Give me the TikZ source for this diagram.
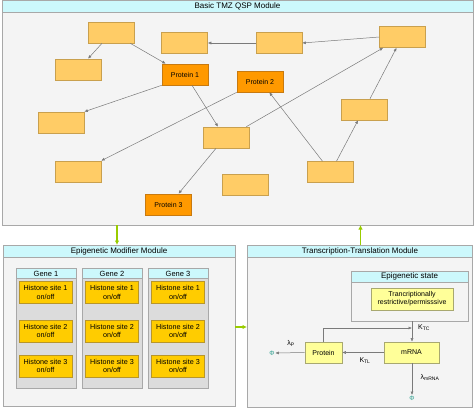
\documentclass[tikz,border=0pt]{standalone}
\usepackage{fontspec}
\setmainfont{Liberation Sans}
\usetikzlibrary{arrows.meta,calc}
\definecolor{modfill}{HTML}{F4F4F4}
\definecolor{modline}{HTML}{A8A8A8}
\definecolor{band}{HTML}{CCF8FC}
\definecolor{boxfill}{HTML}{FFCC66}
\definecolor{boxline}{HTML}{C9A04E}
\definecolor{protfill}{HTML}{FF9900}
\definecolor{protline}{HTML}{C87A10}
\definecolor{histfill}{HTML}{FFCC00}
\definecolor{histline}{HTML}{B8962A}
\definecolor{genefill}{HTML}{DCDCDC}
\definecolor{ylwfill}{HTML}{FFFF99}
\definecolor{ylwline}{HTML}{A8A870}
\definecolor{grn}{HTML}{99CC00}
\definecolor{phic}{HTML}{2E9E8E}
\definecolor{conn}{HTML}{7A7A7A}
\begin{document}
\begin{tikzpicture}[x=1pt,y=-1pt,
  modbox/.style={draw=modline,fill=modfill,line width=0.8pt},
  bandbox/.style={draw=modline,fill=band,line width=0.6pt},
  obox/.style={draw=boxline,fill=boxfill,line width=0.6pt,minimum width=46pt,minimum height=21pt,inner sep=0pt},
  pbox/.style={draw=protline,fill=protfill,line width=0.6pt,minimum width=46pt,minimum height=21pt,inner sep=0pt,font=\fontsize{7}{8}\selectfont},
  hbox/.style={draw=histline,fill=histfill,line width=0.6pt,minimum width=53pt,minimum height=22pt,inner sep=0pt,align=center,font=\fontsize{7.2}{8.4}\selectfont},
  gbox/.style={draw=modline,fill=genefill,line width=0.6pt},
  ybox/.style={draw=ylwline,fill=ylwfill,line width=0.6pt,inner sep=0pt,align=center,font=\fontsize{7}{8.2}\selectfont},
  ttl/.style={font=\fontsize{8}{9}\selectfont,inner sep=0pt},
  gttl/.style={font=\fontsize{7.5}{9}\selectfont,inner sep=0pt},
  lbl/.style={font=\fontsize{7}{8}\selectfont,inner sep=0pt},
  conn/.style={draw=conn,line width=0.5pt,-{Latex[length=3.5pt,width=3pt]}},
  garrow/.style={draw=grn,line width=1.4pt,-{Latex[length=4.5pt,width=4.5pt]}},
  phi/.style={text=phic,font=\fontsize{6.5}{7}\selectfont,inner sep=0.5pt}]
\useasboundingbox (0,0) rectangle (474,408);
% ---------- Top module ----------
\draw[modbox] (2,0) rectangle (473,225);
\draw[bandbox] (2,0) rectangle (473,12.5);
\node[ttl] (toptitle) at (237.5,6.5) {Basic TMZ QSP Module};
\node[obox] (B1) at (111,32.5) {};
\node[obox] (B2) at (78,69.5) {};
\node[obox] (B3) at (184.5,43) {};
\node[pbox] (P1) at (185,74.5) {Protein 1};
\node[obox] (B4) at (279,43) {};
\node[obox] (B5) at (402.5,37) {};
\node[pbox] (P2) at (260,81.5) {Protein 2};
\node[obox] (B6) at (61,122.5) {};
\node[obox] (B7) at (364,109.5) {};
\node[obox] (B8) at (226,137.5) {};
\node[obox] (B9) at (78,171.5) {};
\node[obox] (B10) at (245,184.5) {};
\node[obox] (B11) at (330.5,172) {};
\node[pbox] (P3) at (168.5,204.5) {Protein 3};
\draw[conn] ([xshift=-9pt]B1.south) -- ([xshift=10pt]B2.north);
\draw[conn] ([xshift=-4pt]B1.south east) -- ([xshift=4pt]P1.north west);
\draw[conn] (B4.west) -- (B3.east);
\draw[conn] (B5.west) -- (B4.east);
\draw[conn] (P1.south west) -- (B6.north east);
\draw[conn] ([xshift=7pt]P1.south) -- ([xshift=-8pt]B8.north);
\draw[conn] (P2.south west) -- (B9.north east);
\draw[conn] ([xshift=-3pt]B8.north east) -- ([xshift=4pt]B5.south west);
\draw[conn] ([xshift=-10pt]B8.south) -- ([xshift=10pt]P3.north);
\draw[conn] ([xshift=-8pt]B11.north) -- ([xshift=-14pt]P2.south east);
\draw[conn] ([xshift=6pt]B11.north) -- ([xshift=-6pt]B7.south);
\draw[conn] ([xshift=6pt]B7.north) -- ([xshift=-6pt]B5.south);
% ---------- Epigenetic modifier module ----------
\draw[modbox] (3,245) rectangle (235,406);
\draw[bandbox] (3,245) rectangle (235,257);
\node[ttl] (epititle) at (119,251) {Epigenetic Modifier Module};
\foreach \g/\xl/\xc in {1/16/45.5,2/82/112,3/148/178}{
  \draw[gbox] (\xl,268) rectangle ++(60,120);
  \draw[bandbox] (\xl,268) rectangle ++(60,10);
  \node[gttl] (gene\g) at (\xl+30,273.5) {Gene \g};
  \node[hbox] (h\g a) at (\xc,292.5) {Histone site 1\\on/off};
  \node[hbox] (h\g b) at (\xc,331) {Histone site 2\\on/off};
  \node[hbox] (h\g c) at (\xc,366) {Histone site 3\\on/off};
}
% ---------- Transcription-Translation module ----------
\draw[modbox] (247,245) rectangle (472,407);
\draw[bandbox] (247,245) rectangle (472,257);
\node[ttl] (tttitle) at (360,251) {Transcription-Translation Module};
\draw[modbox,line width=0.6pt] (351,271) rectangle (468,321);
\draw[bandbox] (351,271) rectangle (468,282);
\node[ttl] (estitle) at (409.5,276.5) {Epigenetic state};
\node[ybox,minimum width=82pt,minimum height=22pt] (trc) at (412,299) {Trancriptionally\\restrictive/permisssive};
\coordinate (esb) at (412,321);
\node[ybox,minimum width=55pt,minimum height=21pt] (mrna) at (411.5,352.5) {mRNA};
\node[ybox,minimum width=37pt,minimum height=21pt] (prot) at (323.5,352.5) {Protein};
\node[phi] (phi1) at (272,353) {Φ};
\node[phi] (phi2) at (412,398) {Φ};
\coordinate (jn) at (412,328);
\draw[conn] (esb) -- (mrna.north -| esb);
\draw[conn] (prot.north) |- (jn);
\draw[conn] (mrna.west) -- (prot.east);
\draw[conn] (prot.west) -- (phi1.east);
\draw[conn] (mrna.south -| phi2) -- (phi2.north);
\node[lbl] (ktc) at (424,328) {K\textsubscript{TC}};
\node[lbl] (lp) at (291,343) {λ\textsubscript{P}};
\node[lbl] (ktl) at (365,361) {K\textsubscript{TL}};
\node[lbl] (lm) at (430,377) {λ\textsubscript{mRNA}};
% ---------- Green inter-module arrows ----------
\coordinate (g1s) at (117,225);
\coordinate (g1e) at (117,245);
\coordinate (g2s) at (360.5,245);
\coordinate (g2e) at (360.5,225);
\coordinate (g3s) at (235,327);
\coordinate (g3e) at (247,327);
\draw[garrow] (g1s) -- (g1e);
\draw[garrow] (g2s) -- (g2e);
\draw[garrow] (g3s) -- (g3e);
\end{tikzpicture}
\end{document}
